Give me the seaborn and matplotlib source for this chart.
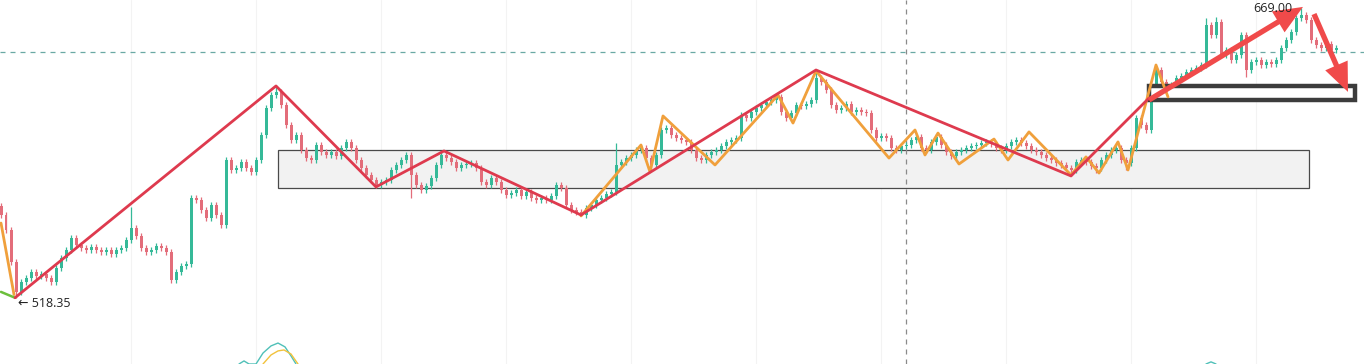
import numpy as np
import pandas as pd
import matplotlib
matplotlib.use("Agg")
import matplotlib.pyplot as plt
import seaborn as sns

# ---------------- data ----------------
close = [
    561.4, 553.6, 537.0, 521.4, 526.6, 528.6, 531.8, 529.7, 530.7, 528.6,
    526.6, 533.8, 539.0, 543.2, 549.4, 545.8, 544.2, 543.2, 544.8, 543.2,
    542.2, 543.2, 541.1, 543.2, 544.2, 548.4, 554.6, 550.5, 544.2, 542.2,
    543.2, 545.3, 544.2, 542.2, 527.6, 531.8, 534.9, 535.9, 570.2, 569.2,
    564.0, 559.8, 566.6, 561.4, 556.2, 590.0, 584.8, 585.8, 589.0, 585.8,
    583.8, 590.0, 603.0, 617.0, 623.8, 625.4, 618.6, 608.2, 600.4, 603.0,
    595.2, 591.0, 590.0, 597.8, 594.2, 592.6, 594.2, 592.1, 596.2, 599.4,
    596.2, 590.0, 585.8, 582.2, 579.6, 577.0, 578.6, 579.6, 584.8, 587.4,
    590.0, 592.6, 582.2, 577.0, 574.4, 576.5, 580.6, 587.4, 592.6, 591.0,
    589.0, 585.8, 587.4, 587.9, 588.4, 585.8, 578.6, 577.0, 580.6, 578.6,
    574.4, 571.8, 572.8, 574.4, 571.3, 573.4, 570.2, 569.2, 570.2, 569.2,
    571.3, 577.0, 575.4, 566.6, 564.0, 563.0, 561.4, 565.0, 566.6, 569.2,
    570.2, 572.3, 573.4, 587.4, 589.0, 591.0, 592.6, 595.2, 596.2, 591.0,
    587.4, 592.6, 605.6, 606.6, 603.0, 601.4, 600.4, 599.4, 595.2, 591.0,
    590.0, 592.6, 594.2, 595.2, 597.3, 599.4, 600.4, 601.4, 613.4, 611.8,
    615.0, 617.0, 618.6, 620.2, 621.2, 622.8, 615.0, 611.8, 614.4, 618.6,
    618.1, 619.1, 621.2, 632.6, 630.6, 626.4, 618.6, 616.0, 617.0, 619.1,
    615.0, 616.0, 615.0, 614.4, 605.6, 601.4, 602.5, 601.4, 596.2, 595.2,
    597.3, 597.8, 600.4, 602.0, 596.2, 595.2, 599.4, 602.0, 597.8, 594.2,
    592.1, 594.2, 595.2, 596.2, 597.3, 597.8, 598.8, 599.4, 598.3, 596.2,
    595.2, 597.3, 599.4, 600.4, 598.8, 597.3, 595.2, 594.2, 592.6, 591.0,
    590.0, 588.4, 587.4, 585.8, 584.8, 589.0, 590.0, 589.0, 586.9, 585.8,
    590.0, 592.6, 595.2, 596.2, 590.0, 588.4, 596.2, 611.8, 608.2, 605.6,
    623.8, 636.8, 630.6, 627.4, 629.0, 632.6, 633.7, 635.8, 636.8, 637.8,
    639.4, 660.2, 655.0, 661.8, 644.6, 647.2, 642.0, 644.6, 655.0, 636.8,
    641.0, 642.0, 639.4, 641.0, 639.9, 642.0, 648.2, 652.4, 656.6, 663.8,
    665.4, 662.8, 652.4, 649.8, 648.2, 650.3, 647.2, 648.2,
]
first_open = 566.0
extra_high = {26: 565.6, 55: 628.5, 123: 598.8, 163: 636.8, 241: 664.0, 243: 664.5, 260: 669.0}
extra_low = {3: 518.35, 82: 570.2, 116: 560.9, 174: 604.0, 214: 581.7, 219: 583.2, 225: 584.8, 249: 633.0}

red_zz_x = [2.8, 55, 75, 88.6, 116, 163, 214, 229.6]
red_zz_y = [518.35, 628.5, 576.0, 594.7, 561.4, 636.8, 581.7, 622.2]

orange_zz_x = [116, 128, 129.8, 132.4, 142.8, 155.4, 158.4, 163, 177.6, 182.8, 184.8,
               187.4, 191.6, 198.6, 201.4, 205.6, 214, 217, 219.6, 223.4, 225.4, 231, 233.4]
orange_zz_y = [560.9, 597.8, 583.8, 612.9, 587.4, 623.8, 609.2, 636.3, 591.0, 605.6, 592.6,
               604.0, 587.9, 600.9, 590.0, 604.6, 582.2, 591.6, 583.2, 599.4, 584.8, 639.4, 622.8]

orange_left_x = [0, 2.6]
orange_left_y = [557.2, 520.0]
green_left_x = [0, 2.8]
green_left_y = [521.4, 518.35]

range_box = (55.4, 261.6, 575.4, 595.2)       # x0, x1, y0, y1
target_box = (229.6, 270.8, 621.2, 628.5)
dash_level = 646.2
cursor_x = 181

arrow_up = ((229.6, 621.2), (260.4, 669.6))
arrow_down = ((262.6, 665.9), (269.4, 625.4))

label_high = "669.00"
label_low = "← 518.35"

ind_teal_x = [47.6, 48.6, 49.6, 51, 52.4, 54, 55.4, 56.8, 58, 59]
ind_teal_y = [483.9, 485.5, 483.9, 483.9, 489.6, 493.3, 494.8, 492.8, 488.1, 483.9]
ind_yellow_x = [52.4, 54, 55.4, 56.6, 58, 59.4]
ind_yellow_y = [483.9, 488.6, 490.7, 491.2, 489.1, 483.9]
ind_teal2_x = [241, 242, 243]
ind_teal2_y = [483.9, 485.0, 483.9]

# ---------------- figure ----------------
sns.set_style("white")
plt.rcParams["font.family"] = ["Open Sans", "DejaVu Sans"]

W, H = 13.64, 3.64
fig = plt.figure(figsize=(W, H), dpi=100)
ax = fig.add_axes([0, 0, 1, 1])
ax.set_xlim(-0.2, 272.6)
ax.set_ylim(483.9, 673.2)
ax.axis("off")

# faint vertical grid
for gx in [26, 51, 76, 101, 126, 151, 176, 201, 226, 251]:
    ax.axvline(gx, color="#f3f3f3", lw=0.8, zorder=0)

# range box
x0, x1, y0, y1 = range_box
ax.add_patch(plt.Rectangle((x0, y0), x1 - x0, y1 - y0, facecolor="#f2f2f2",
                           edgecolor="#4a4a4a", lw=0.9, zorder=1))

# candles
c = np.array(close)
o = np.concatenate([[first_open], c[:-1]])
hi = np.maximum(o, c) + 1.4
lo = np.minimum(o, c) - 1.4
for k, v in extra_high.items():
    hi[k] = v
for k, v in extra_low.items():
    lo[k] = v
xs = np.arange(len(c))
up = c >= o
col_up, col_dn = "#35b998", "#e36d7a"
colors = np.where(up, col_up, col_dn)
ax.vlines(xs, lo, hi, colors=colors, lw=0.9, zorder=2)
body_b = np.minimum(o, c)
body_h = np.maximum(np.abs(c - o), 0.5)
ax.bar(xs, body_h, bottom=body_b, width=0.6, color=colors, zorder=3, linewidth=0)

# dashed lines
ax.axhline(dash_level, color="#6aa9a4", lw=0.9, ls=(0, (4, 4)), zorder=1)
ax.axvline(cursor_x, color="#8a8a8a", lw=0.9, ls=(0, (4, 4)), zorder=1)

# zigzags
sns.lineplot(x=orange_zz_x, y=orange_zz_y, sort=False, color="#f0a03c", lw=2.0, ax=ax, zorder=5)
sns.lineplot(x=orange_left_x, y=orange_left_y, sort=False, color="#f0a03c", lw=2.0, ax=ax, zorder=5)
sns.lineplot(x=green_left_x, y=green_left_y, sort=False, color="#6cbf3c", lw=1.8, ax=ax, zorder=5)
sns.lineplot(x=red_zz_x, y=red_zz_y, sort=False, color="#de3a4e", lw=2.0, ax=ax, zorder=6)

# target box
x0, x1, y0, y1 = target_box
ax.add_patch(plt.Rectangle((x0, y0), x1 - x0, y1 - y0, facecolor="white",
                           edgecolor="#3c3c3c", lw=3.2, zorder=4))

# arrows
style = "simple,head_length=1.3,head_width=1.1,tail_width=0.24"
for (xt, xh) in [arrow_up, arrow_down]:
    ax.annotate("", xy=xh, xytext=xt,
                arrowprops=dict(arrowstyle=style, mutation_scale=16, color="#f04a4a",
                                shrinkA=0, shrinkB=0, lw=0), zorder=8)

# indicator fragments at bottom
ax.plot(ind_teal_x, ind_teal_y, color="#4fc0b8", lw=1.0, zorder=2)
ax.plot(ind_yellow_x, ind_yellow_y, color="#f2c23c", lw=1.0, zorder=2)
ax.plot(ind_teal2_x, ind_teal2_y, color="#4fc0b8", lw=1.0, zorder=2)

# labels
ax.text(250.4, 669.0, label_high, fontsize=9, color="#222222", ha="left", va="center", zorder=9)
ax.text(3.4, 515.6, label_low, fontsize=9, color="#222222", ha="left", va="center", zorder=9)

fig.savefig("out.png", dpi=100)
